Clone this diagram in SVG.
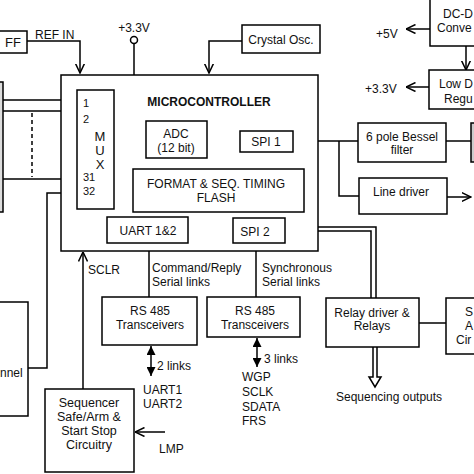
<svg xmlns="http://www.w3.org/2000/svg" width="474" height="474" viewBox="0 0 474 474">
<defs>
<style>
.b{fill:#fff;stroke:#000;stroke-width:1.5}
.l{fill:none;stroke:#000;stroke-width:1.5}
text{font-family:"Liberation Sans",Arial,sans-serif;font-size:12px;fill:#111}
.c{text-anchor:middle}
.bold{font-weight:bold}
</style>
<marker id="open" viewBox="0 0 10 10" refX="9.5" refY="5" markerWidth="10" markerHeight="10" markerUnits="userSpaceOnUse" orient="auto"><path d="M0,0.5 L9.5,5 L0,9.5" fill="none" stroke="#000" stroke-width="1.5"/></marker>
<marker id="fill" viewBox="0 0 10 10" refX="10" refY="5" markerWidth="9" markerHeight="9" markerUnits="userSpaceOnUse" orient="auto-start-reverse"><path d="M0,0 L10,5 L0,10 z" fill="#000"/></marker>
</defs>
<rect width="474" height="474" fill="#fff"/>

<g id="connectors">
<path class="l" d="M27,41 H80 V73" marker-end="url(#open)"/>
<circle cx="134" cy="40" r="3.5" fill="#fff" stroke="#000" stroke-width="1.5"/>
<path class="l" d="M134,43.5 V75"/>
<path class="l" d="M242,41 H209 V73" marker-end="url(#open)"/>
<path class="l" d="M3,100 H77 M3,111 H77 M3,179 H77"/>
<path class="l" d="M32,113 V177" stroke-dasharray="4,3"/>
<path class="l" d="M77,193 H47 V368 H28"/>
<path class="l" d="M114,140 H146"/>
<path class="l" d="M207,141 H240"/>
<path class="l" d="M293,141 H358"/>
<path class="l" d="M339,141 V196 H359"/>
<path class="l" d="M446,141 H471"/>
<path class="l" d="M447,197 H471" marker-end="url(#open)"/>
<path class="l" d="M430,29 H406" marker-end="url(#open)"/>
<path class="l" d="M429,87 H406" marker-end="url(#open)"/>
<path class="l" d="M466,46 V70" marker-end="url(#open)"/>
<path class="l" d="M149,243 V297"/>
<path class="l" d="M256,243 V297"/>
<path class="l" d="M151,346 V376" marker-start="url(#fill)" marker-end="url(#fill)"/>
<path class="l" d="M257,338 V367" marker-start="url(#fill)" marker-end="url(#fill)"/>
<path class="l" d="M83,389 V252" marker-end="url(#open)"/>
<path class="l" d="M165,432 H135" marker-end="url(#open)"/>
<path class="l" d="M318,227 H376 V298 M318,231 H371 V298"/>
<path class="l" d="M419,323 H446"/>
<path class="l" d="M373,347 V377 H369 L375,387 L381,377 H377 V347"/>
</g>

<g id="ff">
<rect class="b" x="-10" y="31" width="37" height="22"/>
<text x="21" y="47" text-anchor="end" style="font-size:13px">FF</text>
</g>
<text x="35" y="39">REF IN</text>
<text x="134" y="32" class="c">+3.3V</text>

<g id="leftbox">
<rect x="-10" y="82" width="13" height="130" fill="#ddd" stroke="#000" stroke-width="1.5"/>
</g>
<g id="nnel">
<rect class="b" x="-10" y="302" width="38" height="114"/>
<text x="0" y="377">nnel</text>
</g>

<g id="crystal">
<rect class="b" x="242" y="25" width="78" height="28"/>
<text x="281" y="44" class="c">Crystal Osc.</text>
</g>

<g id="mcu">
<rect class="b" x="61" y="75" width="257" height="176"/>
<text x="209" y="106" class="c bold">MICROCONTROLLER</text>
</g>

<g id="mux">
<rect class="b" x="77" y="90" width="37" height="119"/>
<text x="83" y="107" style="font-size:11px">1</text>
<text x="83" y="123" style="font-size:11px">2</text>
<text x="83" y="181" style="font-size:11px">31</text>
<text x="83" y="195" style="font-size:11px">32</text>
<text x="100" y="141" class="c" style="font-size:13px">M</text>
<text x="100" y="155" class="c" style="font-size:13px">U</text>
<text x="100" y="169" class="c" style="font-size:13px">X</text>
</g>

<g id="adc">
<rect class="b" x="146" y="121" width="61" height="37"/>
<text x="176" y="138" class="c">ADC</text>
<text x="176" y="152" class="c">(12 bit)</text>
</g>

<g id="spi1">
<rect class="b" x="240" y="131" width="53" height="21"/>
<text x="266" y="146" class="c">SPI 1</text>
</g>

<g id="format">
<rect class="b" x="133" y="169" width="171" height="43"/>
<text x="216" y="188" class="c">FORMAT &amp; SEQ. TIMING</text>
<text x="216" y="202" class="c">FLASH</text>
</g>

<g id="uart">
<rect class="b" x="107" y="217" width="81" height="26"/>
<text x="148" y="235" class="c">UART 1&amp;2</text>
</g>

<g id="spi2">
<rect class="b" x="233" y="218" width="52" height="25"/>
<text x="255" y="236" class="c">SPI 2</text>
</g>

<text x="88" y="274">SCLR</text>
<text x="152" y="272">Command/Reply</text>
<text x="152" y="286">Serial links</text>
<text x="262" y="272">Synchronous</text>
<text x="262" y="286">Serial links</text>

<g id="rs485a">
<rect class="b" x="102" y="297" width="95" height="48"/>
<text x="150" y="315" class="c">RS 485</text>
<text x="150" y="329" class="c">Transceivers</text>
</g>
<g id="rs485b">
<rect class="b" x="207" y="297" width="93" height="40"/>
<text x="255" y="315" class="c">RS 485</text>
<text x="255" y="329" class="c">Transceivers</text>
</g>

<text x="157" y="370">2 links</text>
<text x="143" y="394">UART1</text>
<text x="143" y="408">UART2</text>
<text x="264" y="363">3 links</text>
<text x="242" y="381">WGP</text>
<text x="242" y="396">SCLK</text>
<text x="242" y="411">SDATA</text>
<text x="242" y="425">FRS</text>

<g id="sequencer">
<rect class="b" x="45" y="389" width="89" height="83"/>
<text x="89" y="407" class="c" style="font-size:12.5px">Sequencer</text>
<text x="89" y="421" class="c" style="font-size:12.5px">Safe/Arm &amp;</text>
<text x="89" y="435" class="c" style="font-size:12.5px">Start Stop</text>
<text x="89" y="449" class="c" style="font-size:12.5px">Circuitry</text>
</g>
<text x="159" y="453">LMP</text>

<g id="relay">
<rect class="b" x="326" y="298" width="93" height="49"/>
<text x="372" y="317" class="c">Relay driver &amp;</text>
<text x="372" y="330" class="c">Relays</text>
</g>
<text x="336" y="401">Sequencing outputs</text>

<g id="rightbox">
<rect class="b" x="446" y="298" width="40" height="56"/>
<text x="465" y="316">S</text>
<text x="465" y="330">A</text>
<text x="456" y="344">Cir</text>
</g>

<g id="bessel">
<rect class="b" x="358" y="123" width="88" height="39"/>
<text x="402" y="141" class="c">6 pole Bessel</text>
<text x="402" y="154" class="c">filter</text>
</g>
<rect x="471" y="123" width="10" height="39" fill="#ccc" stroke="#000" stroke-width="1.5"/>

<g id="linedriver">
<rect class="b" x="359" y="178" width="88" height="36"/>
<text x="401" y="196" class="c">Line driver</text>
</g>

<g id="dcdc">
<rect class="b" x="430" y="-5" width="50" height="51"/>
<text x="443" y="18">DC-D</text>
<text x="437" y="32">Conve</text>
</g>
<text x="376" y="38">+5V</text>

<g id="ldo">
<rect class="b" x="429" y="70" width="51" height="39"/>
<text x="439" y="88">Low D</text>
<text x="444" y="103">Regu</text>
</g>
<text x="365" y="93">+3.3V</text>
</svg>
